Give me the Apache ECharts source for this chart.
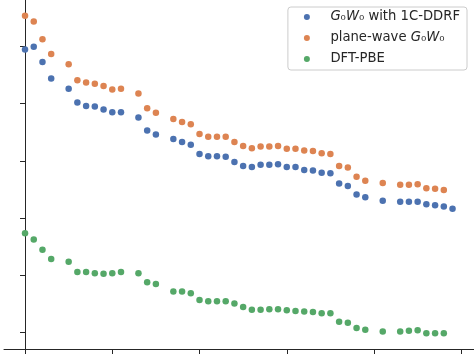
<!DOCTYPE html>
<html>
<head>
<meta charset="utf-8">
<script src="https://cdn.jsdelivr.net/npm/echarts@6/dist/echarts.min.js"></script>
<style>
  body { margin: 0; background: #fff; }
  #graph_1 { width: 474px; height: 354px; }
</style>
</head>
<body>
<div id="graph_1"></div>
<script>
// system index along x, band gap
var xIdx = [0,1,2,3,5,6,7,8,9,10,11,13,14,15,17,18,19,20,21,22,23,24,25,26,27,28,29,30,31,32,33,34,35,36,37,38,39,41,43,44,45,46,47,48];
var xIdxDdrf = xIdx.concat([49]);

var ddrf = [5.95,6.00,5.73,5.44,5.26,5.02,4.96,4.95,4.90,4.85,4.85,4.76,4.53,4.46,
    4.38,4.33,4.28,4.12,4.08,4.08,4.07,3.98,3.91,3.89,3.93,3.93,3.94,3.89,3.89,3.84,3.83,3.79,3.78,3.60,3.56,3.41,3.36,
    3.30,3.28,3.28,3.28,3.24,3.22,3.20,3.16];
var planeWave = [6.54,6.44,6.13,5.87,5.69,5.41,5.37,5.35,5.31,5.25,5.26,5.18,4.92,4.84,
    4.73,4.68,4.64,4.47,4.42,4.42,4.42,4.33,4.26,4.22,4.25,4.25,4.26,4.21,4.21,4.18,4.17,4.13,4.12,3.91,3.88,3.72,3.65,
    3.61,3.58,3.58,3.59,3.52,3.51,3.49];
var pbe = [2.73,2.62,2.44,2.28,2.23,2.05,2.05,2.03,2.02,2.03,2.05,2.03,1.87,1.84,
    1.71,1.71,1.68,1.56,1.54,1.54,1.54,1.50,1.44,1.39,1.39,1.40,1.40,1.38,1.37,1.36,1.35,1.33,1.33,1.18,1.16,1.07,1.04,
    1.01,1.01,1.02,1.03,0.98,0.98,0.98];

var xTicks = [0, 10, 20, 30, 40, 50];
var yTicks = [1, 2, 3, 4, 5, 6];
var names = ['G₀W₀ with 1C-DDRF', 'plane-wave G₀W₀', 'DFT-PBE'];
var colors = ['#4c72b0', '#dd8452', '#55a868'];

function pairs(xs, ys) {
    return ys.map(function (v, i) { return [xs[i], v]; });
}

var myChart = echarts.init(document.getElementById('graph_1'));

var axisCommon = {
    type: 'value',
    axisLine: { show: true, lineStyle: { color: '#262626', width: 1 } },
    axisLabel: { show: false },
    splitLine: { show: false }
};

option = {
    animation: false,
    backgroundColor: '#fff',
    grid: { left: 4, right: 0, top: 0, bottom: 5 },
    xAxis: Object.assign({}, axisCommon, {
        min: -2.41,
        max: 51.46,
        axisTick: { show: true, length: 5, customValues: xTicks, lineStyle: { color: '#262626' } }
    }),
    yAxis: Object.assign({}, axisCommon, {
        min: 0.702,
        max: 6.817,
        axisTick: { show: true, length: 5, customValues: yTicks, lineStyle: { color: '#262626' } }
    }),
    legend: {
        orient: 'vertical',
        right: 7,
        top: 7,
        padding: [2, 7, 3, 16],
        itemWidth: 37,
        itemHeight: 6,
        itemGap: 5,
        icon: 'circle',
        symbolKeepAspect: true,
        backgroundColor: 'rgba(255,255,255,0.8)',
        borderColor: '#cccccc',
        borderWidth: 1,
        borderRadius: 3,
        textStyle: {
            fontFamily: 'DejaVu Sans',
            fontSize: 13.2,
            lineHeight: 16,
            color: '#262626',
            rich: {
                i: { fontFamily: 'DejaVu Sans', fontSize: 13.2, fontStyle: 'italic', color: '#262626' }
            }
        },
        formatter: function (name) {
            return name.replace('G₀W₀', '{i|G}₀{i|W}₀');
        },
        data: names
    },
    series: [
        {
            name: names[0],
            type: 'scatter',
            symbolSize: 6.5,
            itemStyle: { color: colors[0], opacity: 1 },
            data: pairs(xIdxDdrf, ddrf)
        },
        {
            name: names[1],
            type: 'scatter',
            symbolSize: 6.5,
            itemStyle: { color: colors[1], opacity: 1 },
            data: pairs(xIdx, planeWave)
        },
        {
            name: names[2],
            type: 'scatter',
            symbolSize: 6.5,
            itemStyle: { color: colors[2], opacity: 1 },
            data: pairs(xIdx, pbe)
        }
    ]
};

myChart.setOption(option);
</script>
</body>
</html>
